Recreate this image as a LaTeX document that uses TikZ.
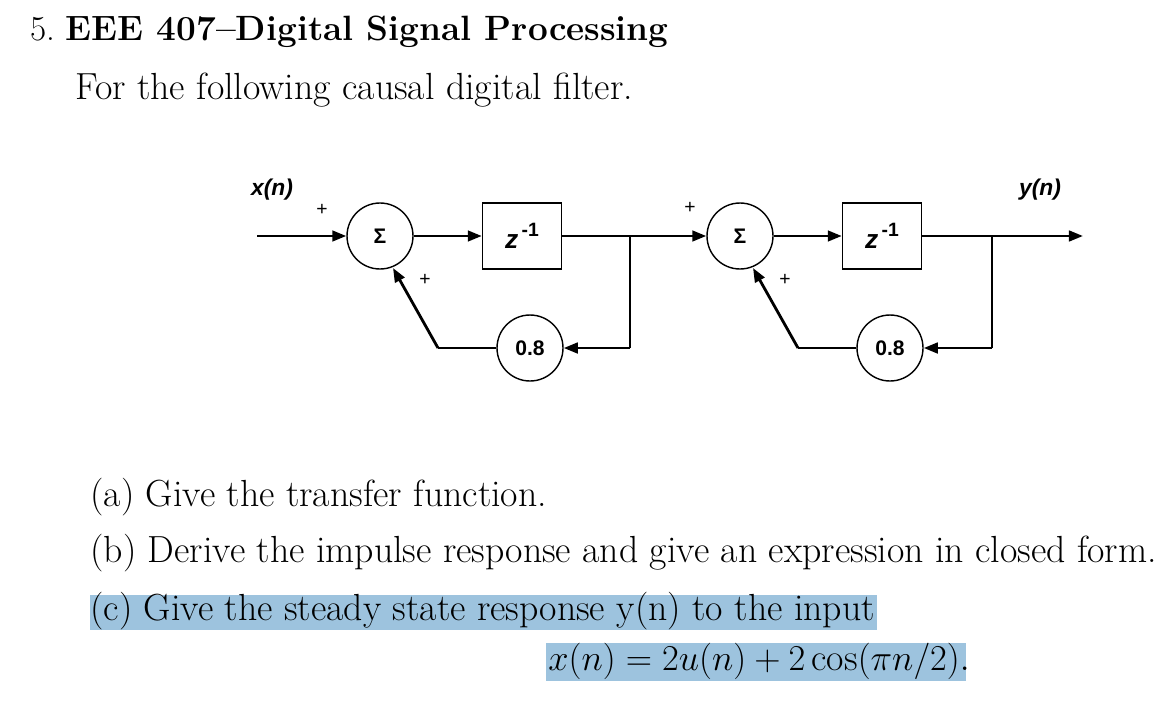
\documentclass[tikz,border=0pt]{standalone}
\usepackage{fontspec}
\newfontfamily\arial{Liberation Sans}
\usetikzlibrary{arrows.meta}
\definecolor{hl}{HTML}{9DC3DE}
\begin{document}
\begin{tikzpicture}[x=0.02cm,y=-0.02cm,
  sum/.style={draw,circle,thick,minimum size=0.66cm*2,inner sep=0pt,font=\arial\bfseries\fontsize{12}{12}\selectfont},
  gain/.style={draw,circle,thick,minimum size=0.66cm*2,inner sep=0pt,font=\arial\bfseries\fontsize{12}{12}\selectfont},
  delay/.style={draw,thick,minimum width=1.58cm,minimum height=1.32cm,inner sep=0pt,font=\arial\bfseries\fontsize{15}{15}\selectfont},
  sig/.style={line width=1.6pt,-{Triangle[length=8pt,width=6pt]}},
  ln/.style={thick},
  lab/.style={font=\arial\bfseries\itshape\fontsize{13}{13}\selectfont},
  pl/.style={font=\arial\fontsize{11}{11}\selectfont},
  txt/.style={anchor=west,inner sep=0pt,font=\fontsize{21.5}{24}\selectfont}]
\useasboundingbox (0,0) rectangle (1172,706);
\fill[hl] (90,595) rectangle (877,630);
\fill[hl] (546,643) rectangle (966,681);
\node[txt,font=\fontsize{20}{24}\selectfont] (title) at (30,32) {5.~\textbf{EEE 407--Digital Signal Processing}};
\node[txt] (intro) at (75,90) {For the following causal digital filter.};
\node[txt] (qa) at (90,497) {(a)~Give the transfer function.};
\node[txt] (qb) at (90,553) {(b)~Derive the impulse response and give an expression in closed form.};
\node[txt] (qc) at (90,611) {(c)~Give the steady state response y(n) to the input};
\node[txt] (qd) at (548,661) {$x(n) = 2u(n) + 2\cos(\pi n/2).$};
% stage 1
\coordinate (in) at (257,236);
\node[sum] (s1) at (380,236) {Σ};
\node[delay] (d1) at (522,236) {\textit{z}\raisebox{0.45em}{\fontsize{11}{11}\selectfont\,-1}};
\coordinate (t1) at (630,236);
\coordinate (t1b) at (630,348);
\node[gain] (g1) at (530,348) {0.8};
\coordinate (c1) at (438,348);
\draw[sig] (in) -- (s1);
\draw[sig] (s1) -- (d1);
\draw[ln] (d1.east) -- (t1);
\draw[ln] (t1) -- (t1b);
\draw[sig] (t1b) -- (g1);
\draw[ln] (g1) -- (c1);
\draw[sig] (c1) -- (393,268);
\node[pl] at (322,210) {+};
\node[pl] at (425,280) {+};
\node[lab] at (272,190) {x(n)};
% stage 2
\node[sum] (s2) at (740,236) {Σ};
\node[delay] (d2) at (882,236) {\textit{z}\raisebox{0.45em}{\fontsize{11}{11}\selectfont\,-1}};
\coordinate (t2) at (992,236);
\coordinate (t2b) at (992,348);
\coordinate (out) at (1083,236);
\node[gain] (g2) at (890,348) {0.8};
\coordinate (c2) at (798,348);
\draw[sig] (t1) -- (s2);
\draw[sig] (s2) -- (d2);
\draw[ln] (d2.east) -- (t2);
\draw[sig] (t2) -- (out);
\draw[ln] (t2) -- (t2b);
\draw[sig] (t2b) -- (g2);
\draw[ln] (g2) -- (c2);
\draw[sig] (c2) -- (753,268);
\node[pl] at (690,208) {+};
\node[pl] at (785,280) {+};
\node[lab] at (1040,190) {y(n)};
\end{tikzpicture}
\end{document}
